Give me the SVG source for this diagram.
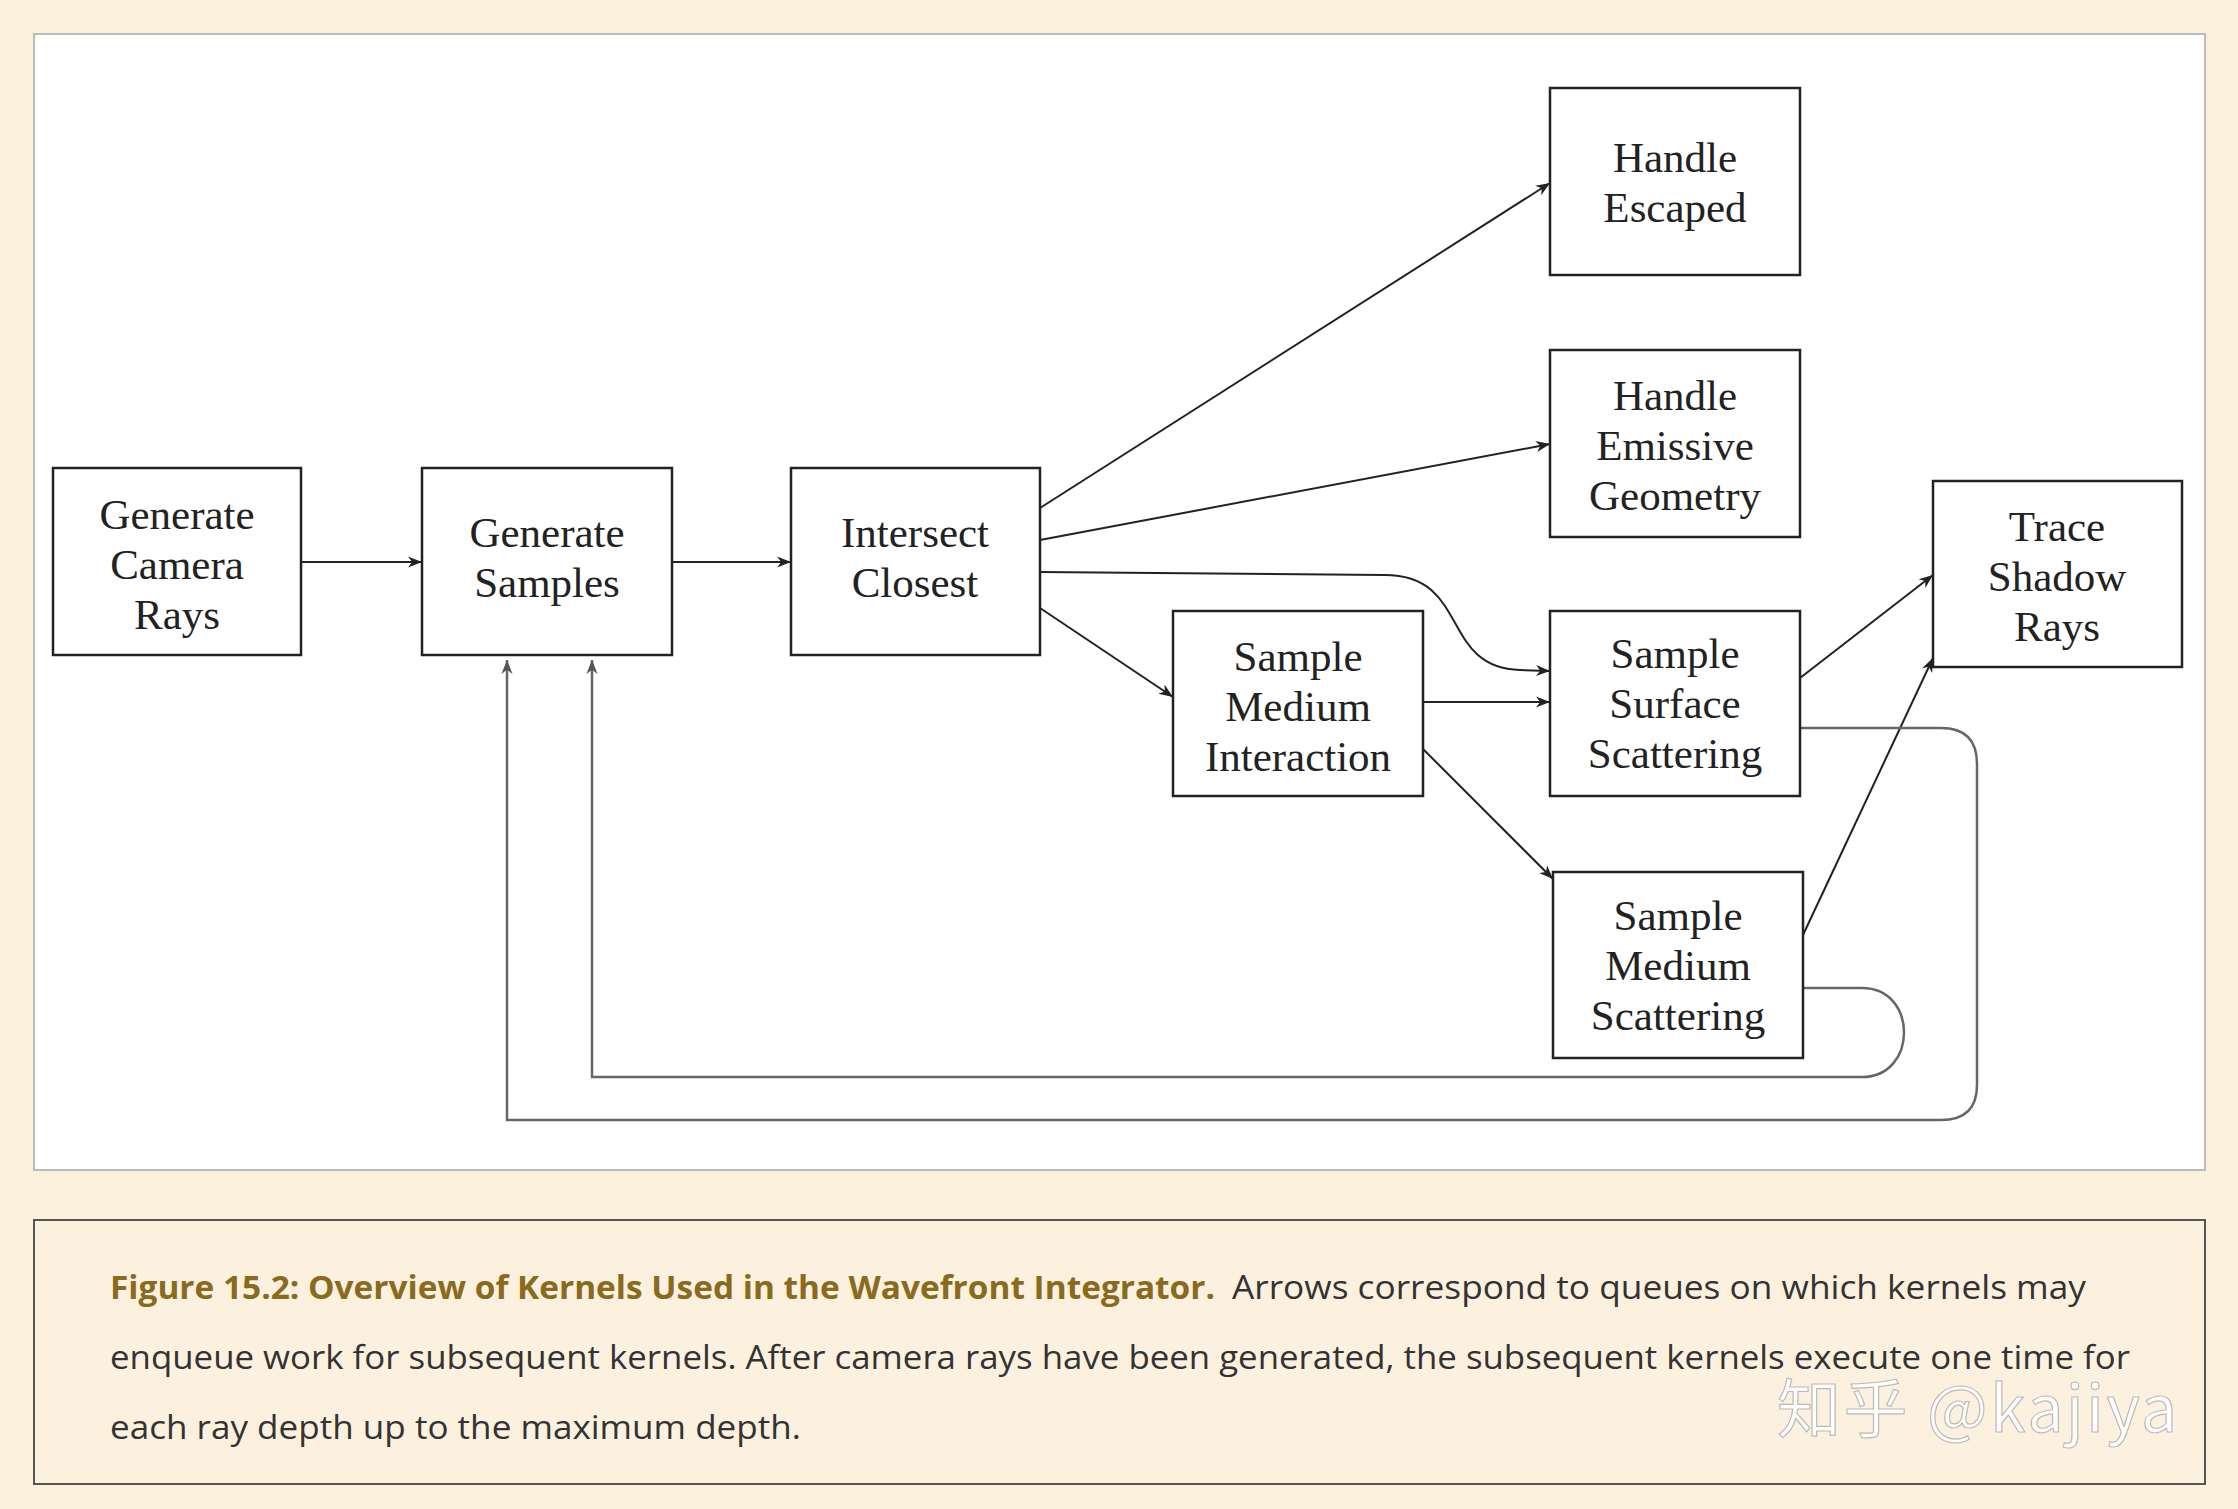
<svg xmlns="http://www.w3.org/2000/svg" width="2238" height="1509" viewBox="0 0 2238 1509">
<defs>
<style>
.n{fill:#fff;stroke:#222;stroke-width:2.5}
.t{font-family:"Liberation Serif","DejaVu Serif",serif;font-size:43px;fill:#222;text-anchor:middle}
.c{fill:none;stroke:#222;stroke-width:2}
.g{fill:none;stroke:#666;stroke-width:2.5}
.cap{font-family:"Open Sans","Liberation Sans",sans-serif;font-size:32px;fill:#333}
.hd{fill:#8a6a1c;font-weight:bold}
</style>
<marker id="a" viewBox="0 0 10 10" refX="10" refY="5" markerWidth="14" markerHeight="14" markerUnits="userSpaceOnUse" orient="auto"><path d="M0,1 L10,5 L0,9 L3,5 Z" fill="#222"/></marker>
<marker id="b" viewBox="0 0 10 10" refX="10" refY="5" markerWidth="14" markerHeight="14" markerUnits="userSpaceOnUse" orient="auto"><path d="M0,1 L10,5 L0,9 L3,5 Z" fill="#555"/></marker>
</defs>
<rect width="2238" height="1509" fill="#fbf0dc"/>
<rect x="34" y="34" width="2171" height="1136" fill="#fff" stroke="#bbb" stroke-width="2"/>
<rect x="34" y="1220" width="2171" height="264" fill="#fcf1de" stroke="#555" stroke-width="2"/>
<g id="connectors">
<path class="c" d="M301,562 L422,562" marker-end="url(#a)"/>
<path class="c" d="M672,562 L791,562" marker-end="url(#a)"/>
<path class="c" d="M1040,508 L1550,183" marker-end="url(#a)"/>
<path class="c" d="M1040,540 L1550,444" marker-end="url(#a)"/>
<path class="c" d="M1040,572 L1385,575 C1470,575 1440,668 1520,670 L1550,671" marker-end="url(#a)"/>
<path class="c" d="M1040,608 L1173,697" marker-end="url(#a)"/>
<path class="c" d="M1423,702 L1550,702" marker-end="url(#a)"/>
<path class="c" d="M1423,749 L1553,879" marker-end="url(#a)"/>
<path class="c" d="M1800,678 L1933,575" marker-end="url(#a)"/>
<path class="c" d="M1803,935 L1933,658" marker-end="url(#a)"/>
<path class="g" d="M1800,728 L1941,728 Q1977,728 1977,764 L1977,1085 Q1977,1120 1941,1120 L507,1120 L507,660" marker-end="url(#b)"/>
<path class="g" d="M1803,988 L1862,988 C1918,988 1918,1077 1862,1077 L592,1077 L592,660" marker-end="url(#b)"/>
</g>
<g id="gen-camera"><rect class="n" x="53" y="468" width="248" height="187"/><text class="t" x="177" y="529">Generate</text><text class="t" x="177" y="579">Camera</text><text class="t" x="177" y="629">Rays</text></g>
<g id="gen-samples"><rect class="n" x="422" y="468" width="250" height="187"/><text class="t" x="547" y="547">Generate</text><text class="t" x="547" y="597">Samples</text></g>
<g id="intersect"><rect class="n" x="791" y="468" width="249" height="187"/><text class="t" x="915" y="547">Intersect</text><text class="t" x="915" y="597">Closest</text></g>
<g id="escaped"><rect class="n" x="1550" y="88" width="250" height="187"/><text class="t" x="1675" y="172">Handle</text><text class="t" x="1675" y="222">Escaped</text></g>
<g id="emissive"><rect class="n" x="1550" y="350" width="250" height="187"/><text class="t" x="1675" y="410">Handle</text><text class="t" x="1675" y="460">Emissive</text><text class="t" x="1675" y="510">Geometry</text></g>
<g id="medium-int"><rect class="n" x="1173" y="611" width="250" height="185"/><text class="t" x="1298" y="671">Sample</text><text class="t" x="1298" y="721">Medium</text><text class="t" x="1298" y="771">Interaction</text></g>
<g id="surface"><rect class="n" x="1550" y="611" width="250" height="185"/><text class="t" x="1675" y="668">Sample</text><text class="t" x="1675" y="718">Surface</text><text class="t" x="1675" y="768">Scattering</text></g>
<g id="medium-scat"><rect class="n" x="1553" y="872" width="250" height="186"/><text class="t" x="1678" y="930">Sample</text><text class="t" x="1678" y="980">Medium</text><text class="t" x="1678" y="1030">Scattering</text></g>
<g id="shadow"><rect class="n" x="1933" y="481" width="249" height="186"/><text class="t" x="2057" y="541">Trace</text><text class="t" x="2057" y="591">Shadow</text><text class="t" x="2057" y="641">Rays</text></g>
<text class="cap hd" x="110" y="1299" textLength="1105" lengthAdjust="spacingAndGlyphs">Figure 15.2: Overview of Kernels Used in the Wavefront Integrator.</text>
<text class="cap" x="1232" y="1299" textLength="854" lengthAdjust="spacingAndGlyphs">Arrows correspond to queues on which kernels may</text>
<text class="cap" x="110" y="1369" textLength="2020" lengthAdjust="spacingAndGlyphs">enqueue work for subsequent kernels. After camera rays have been generated, the subsequent kernels execute one time for</text>
<text class="cap" x="110" y="1439" textLength="691" lengthAdjust="spacingAndGlyphs">each ray depth up to the maximum depth.</text>
<text x="1777" y="1432" textLength="400" font-family="Noto Sans CJK SC,Liberation Sans,sans-serif" font-size="64" fill="#ffffff" fill-opacity="0.85" stroke="#bbb" stroke-width="1.2">知乎 @kajiya</text>
</svg>
